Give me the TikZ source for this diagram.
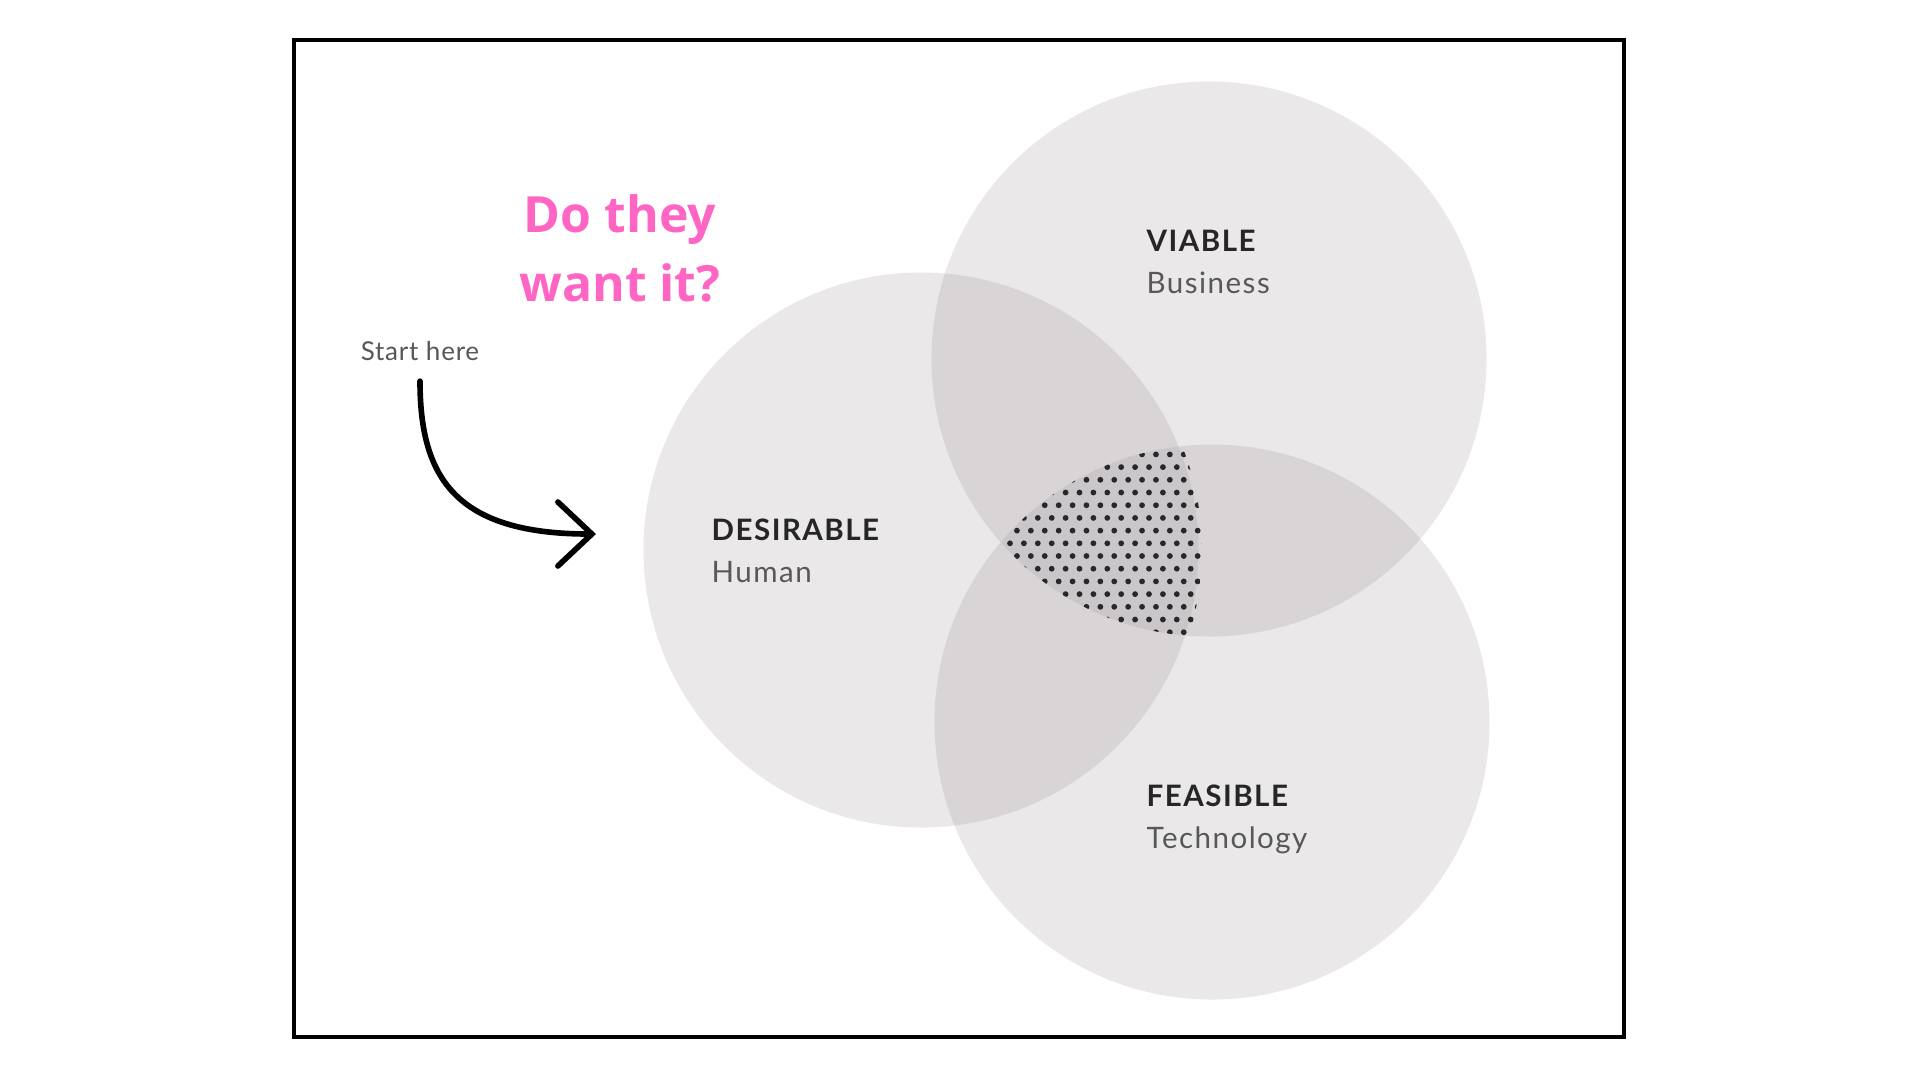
\documentclass[tikz,border=0pt]{standalone}
\usepackage{fontspec}
\setmainfont{Lato}[LetterSpace=5]
\newfontfamily\askfont{Open Sans}
\newfontfamily\startfont{Lato}[LetterSpace=3]
\usetikzlibrary{arrows.meta,positioning}

\definecolor{vennfill}{RGB}{150,140,145}
\definecolor{askpink}{RGB}{255,102,196}
\definecolor{headink}{RGB}{38,38,38}
\definecolor{subink}{RGB}{88,88,88}
\definecolor{dotink}{RGB}{40,40,40}

\begin{document}
\begin{tikzpicture}[x=0.1mm,y=-0.1mm,
  venn/.style={circle,fill=vennfill,fill opacity=0.2,minimum size=55.5mm,inner sep=0pt},
  lens/.style={align=left,anchor=west,inner sep=0pt,text=headink,
    font=\fontsize{8.4}{12}\selectfont},
  ask/.style={align=center,text=askpink,font=\askfont\bfseries\fontsize{14.2}{19.6}\selectfont}]
\useasboundingbox[fill=white] (0,0) rectangle (1920,1080);

% frame
\draw[line width=1.1pt] (294,40) rectangle (1624,1037);

% the three circles
\node (desirable) [venn] at (921,550) {};
\node (viable) [venn] at (1209,359) {};
\node (feasible) [venn] at (1212,722) {};

% dots in the middle
\begin{scope}
\clip (viable.center) circle[radius=27.75mm];
\clip (feasible.center) circle[radius=27.75mm];
\clip (desirable.center) circle[radius=28.1mm];
\foreach \j in {0,...,16}
  \foreach \i in {0,...,15}
    \fill[dotink] ({1010+13.9*\i+mod(\j,2)*6.95},{441.7+12.7*\j}) circle[radius=0.29mm];
\end{scope}

% labels
\node (deslabel) [lens] at (711,551) {\textbf{DESIRABLE}\\\color{subink}Human};
\node (vialabel) [lens] at (1146,262) {\textbf{VIABLE}\\\color{subink}Business};
\node (fealabel) [lens] at (1146,819) {\textbf{FEASIBLE}\\\color{subink}Technology};

\node (ask) [ask] at (620,248) {Do they\\want it?};

% start arrow
\node (start) [text=subink,font=\startfont\fontsize{7.4}{9}\selectfont] at (420,351) {Start here};
\coordinate (arrowend) at (596,534);
\draw[line width=1.6pt,line cap=round,-{Straight Barb[length=3.4mm,width=6.4mm,line cap=round]}]
  (start.south) ++(0,8) .. controls (420,477) and (455,534) .. (arrowend);
\end{tikzpicture}
\end{document}
